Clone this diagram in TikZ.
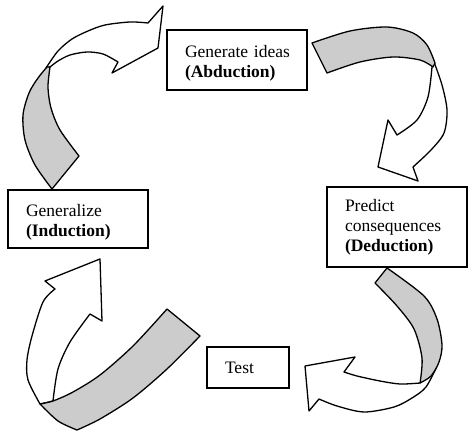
\documentclass[tikz,border=0pt]{standalone}
\usepackage{fontspec}
\setmainfont{Liberation Serif}
\begin{document}
\begin{tikzpicture}[x=1pt,y=-1pt,
  box/.style={draw, line width=1.4pt, inner ysep=0pt, inner xsep=18pt, align=left,
    font=\fontsize{17.5}{20}\selectfont},
  ribbon/.style={draw, line width=1.3pt, fill=white, line join=round},
  back/.style={draw, line width=1.3pt, fill=black!20, line join=round}]
\useasboundingbox (0,0) rectangle (474,438);
% boxes
\node[box, minimum width=140pt, minimum height=60pt, text width=104pt] (gen) at (237,60)
  {\rule{0pt}{17.8pt}Generate~ideas\\\textbf{(Abduction)}};
\node[box, minimum width=140pt, minimum height=58pt, text width=104pt] (ind) at (78,219)
  {\rule{0pt}{17.8pt}Generalize\\\textbf{(Induction)}};
\node[box, minimum width=140pt, minimum height=80pt, text width=104pt] (ded) at (397,227)
  {Predict\\consequences\\\textbf{(Deduction)}};
\node[box, minimum width=82pt, minimum height=41pt, text width=46pt] (test) at (248,367.5) {Test};
% arrow 1: Generalize -> Generate ideas
\path[ribbon] plot[smooth] coordinates {(46,68) (58,51) (72,39) (88,31) (105,25) (130,22) (148,23)}
  -- (163,6) -- (158,48) -- (112,73) -- (118,62)
  -- plot[smooth] coordinates {(118,62) (103,54) (87,52) (70,55) (58,61) (50,67)} -- cycle;
\path[back] plot[smooth] coordinates {(52,189) (35,165) (25,140) (23,115) (29,93) (38,78) (47,67)}
  -- plot[smooth] coordinates {(50,67) (48,87) (51,108) (60,130) (79,156)} -- cycle;
% arrow 2: Generate ideas -> Predict
\path[ribbon] plot[smooth] coordinates {(434,62) (442,85) (447,110) (444,133) (431,150) (413,167)}
  -- (418,181) -- (378,167) -- (388,120) -- (397,135)
  -- plot[smooth] coordinates {(397,135) (417,120) (428,97) (432,67)} -- cycle;
\path[back] plot[smooth] coordinates {(312,43) (350,31) (387,27) (413,33) (427,45) (435,63)}
  -- plot[smooth] coordinates {(433,67) (420,60) (393,57) (360,62) (327,73)} -- cycle;
% arrow 3: Predict -> Test
\path[ribbon] plot[smooth] coordinates {(420,383) (400,384) (380,381) (357,376) (344,372)}
  -- (355,357) -- (305,366) -- (309,411) -- (319,399)
  -- plot[smooth] coordinates {(319,399) (337,406) (364,412) (394,407) (412,398) (426,387) (437,366)} -- cycle;
\path[back] plot[smooth] coordinates {(375,283) (397,306) (414,329) (422,358) (420,383)}
  -- plot[smooth] coordinates {(420,383) (431,376) (439,362) (442,345) (437,319) (424,296) (387,268)} -- cycle;
% arrow 4: Test -> Generalize
\path[ribbon] plot[smooth] coordinates {(40,404) (28,380) (27,360) (32,336) (43,302) (55,289)}
  -- (45,281) -- (100,259) -- (102,321) -- (90,314)
  -- plot[smooth] coordinates {(90,314) (70,342) (58,369) (53,401)} -- cycle;
\path[back] plot[smooth] coordinates {(167,309) (133,346) (100,375) (73,392) (53,401) (40,404)}
  -- plot[smooth] coordinates {(40,404) (58,421) (77,430)}
  -- plot[smooth] coordinates {(77,430) (100,419) (133,398) (167,369) (200,336)} -- cycle;
\end{tikzpicture}
\end{document}
